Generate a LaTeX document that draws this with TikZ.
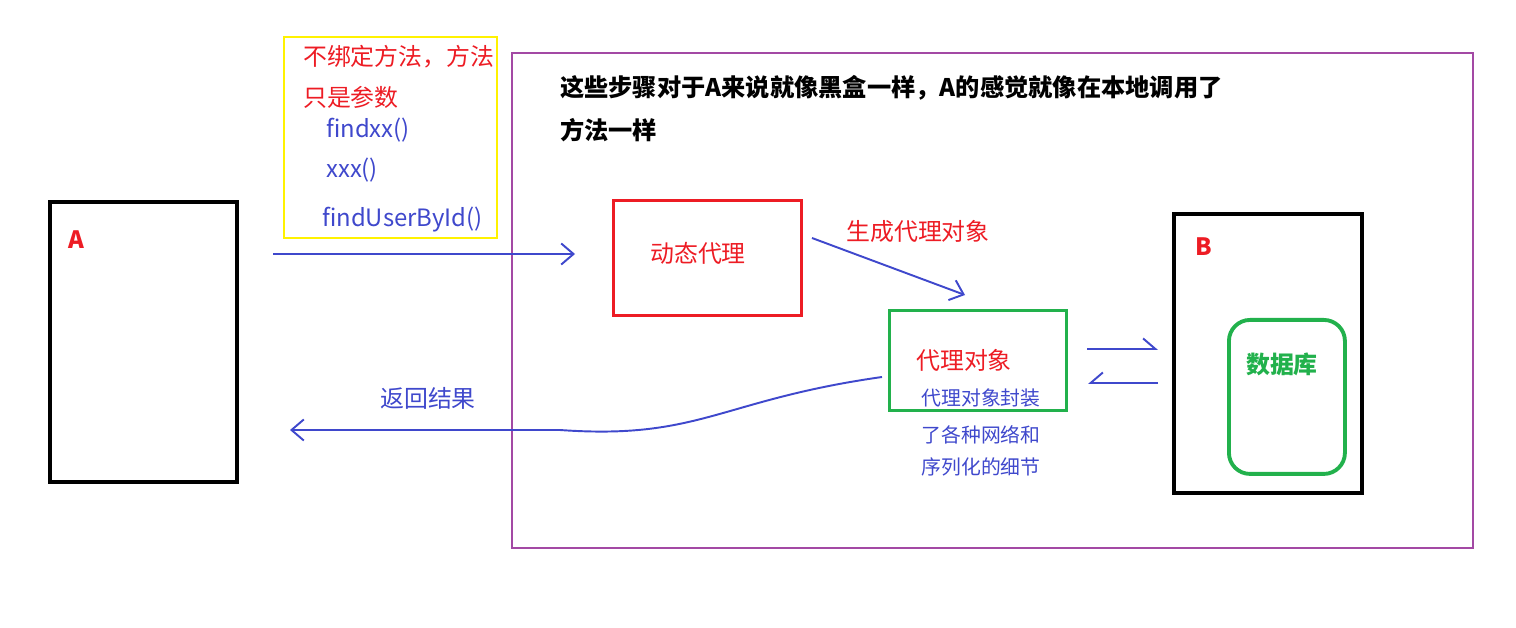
\documentclass[tikz,border=0pt]{standalone}
\usepackage{fontspec}
\setmainfont{Noto Sans CJK SC}
\usetikzlibrary{arrows.meta}
\definecolor{myblue}{RGB}{63,72,204}
\definecolor{myred}{RGB}{237,28,36}
\definecolor{mygreen}{RGB}{34,177,76}
\definecolor{mypurple}{RGB}{163,73,164}
\definecolor{myyellow}{RGB}{255,242,0}
\tikzset{
  px/.style={x=0.02cm,y=-0.02cm},
  blk/.style={draw=black,line width=2.2pt},
  arr/.style={draw=myblue,line width=1.1pt,-{Straight Barb[length=7pt,width=12pt]}},
  redt/.style={text=myred,font=\fontsize{13.6}{15}\selectfont},
  bluet/.style={text=myblue,font=\fontsize{13.6}{15}\selectfont},
  smallt/.style={text=myblue,font=\fontsize{11.3}{13}\selectfont},
}
\begin{document}
\begin{tikzpicture}[px]
\useasboundingbox (0,0) rectangle (1516,628);
\node[blk,minimum width=187*0.02cm,minimum height=280*0.02cm,anchor=north west,inner sep=0] (A) at (48,200) {};
\node[text=myred,font=\bfseries\fontsize{13.6}{15}\selectfont] (Al) at (76,240) {A};
\draw[myyellow,line width=1.5pt] (284,37) rectangle (497,238);
\node[redt,anchor=west] (y1) at (297,57) {不绑定方法，方法};
\node[redt,anchor=west] (y2) at (297,97) {只是参数};
\node[bluet,anchor=west] (y3) at (320,130) {findxx()};
\node[bluet,anchor=west] (y4) at (320,170) {xxx()};
\node[bluet,anchor=west] (y5) at (316,220) {findUserById()};
\draw[mypurple,line width=1.5pt] (512,53) rectangle (1473,548);
\node[anchor=west,font=\bfseries\fontsize{13.8}{15}\selectfont] (t1) at (554,88) {这些步骤对于A来说就像黑盒一样，A的感觉就像在本地调用了};
\node[anchor=west,font=\bfseries\fontsize{13.8}{15}\selectfont] (t2) at (554,130) {方法一样};
\coordinate (s1) at (273,254);
\coordinate (e1) at (575,254);
\draw[arr] (s1) -- (e1);
\node[draw=myred,line width=1.5pt,minimum width=188*0.02cm,minimum height=115*0.02cm,anchor=north west,inner sep=0] (dp) at (612,199) {};
\node[redt] (dpl) at (698,253) {动态代理};
\coordinate (s2) at (812,238);
\coordinate (e2) at (965,295);
\draw[arr] (s2) -- (e2);
\node[redt] (gl) at (918,231) {生成代理对象};
\node[draw=mygreen,line width=1.5pt,minimum width=177*0.02cm,minimum height=100*0.02cm,anchor=north west,inner sep=0] (po) at (888,309) {};
\node[redt] (pol) at (964,360) {代理对象};
\node[smallt] (n1) at (981,398) {代理对象封装};
\node[smallt] (n2) at (981,435) {了各种网络和};
\node[smallt] (n3) at (981,467) {序列化的细节};
\node[blk,minimum width=188*0.02cm,minimum height=279*0.02cm,anchor=north west,inner sep=0] (B) at (1172,212) {};
\node[text=myred,font=\bfseries\fontsize{13.6}{15}\selectfont] (Bl) at (1204,247) {B};
\node[draw=mygreen,line width=2.2pt,rounded corners=12pt,minimum width=116*0.02cm,minimum height=154*0.02cm,anchor=north west,inner sep=0] (db) at (1227,318) {};
\node[text=mygreen,font=\bfseries\fontsize{13.6}{15}\selectfont] (dbl) at (1282,364) {数据库};
\coordinate (s3) at (1087,349);
\coordinate (e3) at (1158,349);
\draw[myblue,line width=1.1pt,-{Straight Barb[left,length=7pt,width=12pt]}] (s3) -- (e3);
\coordinate (s4) at (1158,383);
\coordinate (e4) at (1088,383);
\draw[myblue,line width=1.1pt,-{Straight Barb[right,length=7pt,width=12pt]}] (s4) -- (e4);
\coordinate (s5) at (882,377);
\coordinate (e5) at (290,430);
\draw[arr] (s5) .. controls (720,400) and (700,440) .. (560,430) -- (e5);
\node[bluet] (rl) at (428,398) {返回结果};
\end{tikzpicture}
\end{document}
